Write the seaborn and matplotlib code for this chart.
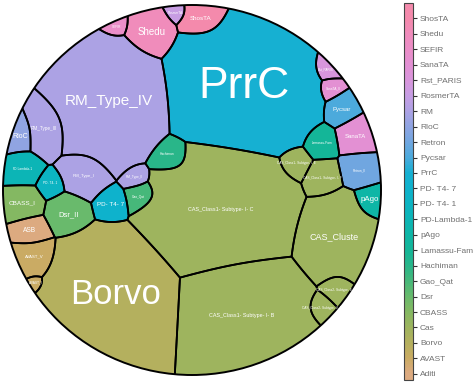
import numpy as np
import matplotlib
matplotlib.use("Agg")
import matplotlib.pyplot as plt
import seaborn as sns
from matplotlib.patches import Ellipse
from matplotlib.colors import LinearSegmentedColormap

# --- Data ---------------------------------------------------------------
# defence systems in colour-bar order (bottom -> top)
systems = ["Aditi", "AVAST", "Borvo", "Cas", "CBASS", "Dsr", "Gao_Qat",
           "Hachiman", "Lamassu-Fam", "pAgo", "PD-Lambda-1", "PD- T4- 1",
           "PD- T4- 7", "PrrC", "Pycsar", "Retron", "RloC", "RM", "RosmerTA",
           "Rst_PARIS", "SanaTA", "SEFIR", "Shedu", "ShosTA"]

# treemap cells (subtypes), the system they belong to and their size
cell_names = ["PrrC", "RM_Type_IV", "RM_Type_III", "RM_Type_I", "RM_Type_II",
              "RloC", "PD-Lambda-1", "PD- T4- 1", "PD- T4- 7", "Gao_Qat",
              "Hachiman", "CBASS_I", "Dsr_II", "ASB", "AVAST_V", "AVAST_I",
              "Borvo", "CAS_Class1- Subtype- I- C", "CAS_Class1- Subtype- I- B",
              "CAS_Cluste", "CAS_Class1- Subtype- I- E",
              "CAS_Class1- Subtype- I- F", "CAS_Class2- Subtype- II- A",
              "CAS_Class2- Subtype- V- A", "Lamassu-Fam", "pAgo", "Retron_II",
              "SanaTA", "SanaTA_II", "Pycsar", "Rst_PARIS", "SEFIR", "ShosTA",
              "RosmerTA", "Shedu"]
cell_system = ["PrrC", "RM", "RM", "RM", "RM",
               "RloC", "PD-Lambda-1", "PD- T4- 1", "PD- T4- 7", "Gao_Qat",
               "Hachiman", "CBASS", "Dsr", "Aditi", "AVAST", "AVAST",
               "Borvo", "Cas", "Cas",
               "Cas", "Cas",
               "Cas", "Cas",
               "Cas", "Lamassu-Fam", "pAgo", "Retron",
               "SanaTA", "SanaTA", "Pycsar", "Rst_PARIS", "SEFIR", "ShosTA",
               "RosmerTA", "Shedu"]
cell_size = [16500, 12000, 1800, 1700, 500,
             600, 1100, 600, 1000, 550,
             900, 1200, 1500, 900, 1100, 150,
             14000, 15000, 12000,
             5500, 700,
             1100, 600,
             500, 900, 600, 1200,
             1100, 400, 900, 350, 300, 1000,
             250, 1700]

# --- Layout (pixel space of the figure) ----------------------------------
CX, CY, RX, RY = 192.0, 190.0, 189.0, 185.0
seeds = {
    "PrrC": (245, 85), "RM_Type_IV": (112, 100), "RM_Type_III": (45, 125),
    "RM_Type_I": (85, 170), "RM_Type_II": (140, 177), "RloC": (20, 130),
    "PD-Lambda-1": (23, 165), "PD- T4- 1": (52, 183), "PD- T4- 7": (112, 202),
    "Gao_Qat": (147, 194), "Hachiman": (177, 160), "CBASS_I": (23, 203),
    "Dsr_II": (68, 212), "ASB": (30, 232), "AVAST_V": (33, 260),
    "AVAST_I": (35, 282), "Borvo": (112, 305),
    "CAS_Class1- Subtype- I- C": (225, 205),
    "CAS_Class1- Subtype- I- B": (245, 312), "CAS_Cluste": (340, 235),
    "CAS_Class1- Subtype- I- E": (293, 163),
    "CAS_Class1- Subtype- I- F": (322, 178),
    "CAS_Class2- Subtype- II- A": (338, 284),
    "CAS_Class2- Subtype- V- A": (318, 307), "Lamassu-Fam": (320, 142),
    "pAgo": (370, 205), "Retron_II": (360, 170), "SanaTA": (357, 135),
    "SanaTA_II": (330, 87), "Pycsar": (342, 108), "Rst_PARIS": (327, 67),
    "SEFIR": (117, 25), "ShosTA": (207, 20), "RosmerTA": (178, 12),
    "Shedu": (153, 33),
}
font_pt = {
    "PrrC": 32, "Borvo": 25, "RM_Type_IV": 11, "Shedu": 7, "CAS_Cluste": 6.5,
    "pAgo": 5.7, "Dsr_II": 5.5, "RloC": 5, "ASB": 4.8, "CBASS_I": 4.6,
    "PD- T4- 7": 4.5, "ShosTA": 4.5, "Pycsar": 4.3, "SanaTA": 4.3,
    "CAS_Class1- Subtype- I- C": 3.9, "CAS_Class1- Subtype- I- B": 3.9,
    "RM_Type_III": 3.3, "AVAST_V": 3.2, "RM_Type_I": 3.1,
}
small_pt = 2.3

# colour anchors per system (bottom -> top of the colour bar)
anchor_colors = ["#dcaa80", "#c9ab62", "#b4b05e", "#9db45e", "#84b862",
                 "#68ba6c", "#46b87a", "#28b68a", "#14b698", "#0eb6a6",
                 "#0cb5b6", "#0cb4c2", "#0eb2cc", "#16b0d2", "#4aaadc",
                 "#70a6e0", "#8ea4e2", "#aca2e4", "#c69ee4", "#d896dc",
                 "#e290d4", "#ea8ec8", "#f08cbc", "#f48aac"]
VMIN, VMAX = -0.4, 24.0

sns.set_theme(style="white")
plt.rcParams["font.family"] = ["Liberation Sans", "DejaVu Sans"]

pos = [(k - VMIN) / (VMAX - VMIN) for k in range(len(systems))]
pal = sns.color_palette(anchor_colors)
cmap = LinearSegmentedColormap.from_list(
    "systems", [(0.0, pal[0])] + list(zip(pos, pal)) + [(1.0, pal[-1])])

# --- Additively weighted Voronoi treemap inside the ellipse -------------
W, H = 384, 382
n = len(cell_names)
sx = np.array([seeds[c][0] for c in cell_names], dtype=float)
sy = np.array([seeds[c][1] for c in cell_names], dtype=float)
gx, gy = np.meshgrid(np.arange(W) + 0.5, np.arange(H) + 0.5)
inside = ((gx - CX) / RX) ** 2 + ((gy - CY) / RY) ** 2 <= 1.0
dist = np.hypot(gx.reshape(-1, 1) - sx, gy.reshape(-1, 1) - sy).astype(np.float32)
din = dist[inside.ravel()]

size = np.array(cell_size, dtype=float)
target = size / size.sum() * inside.sum()
w = np.zeros(n)
for it in range(400):
    lab = np.argmin(din - w.astype(np.float32), axis=1)
    area = np.bincount(lab, minlength=n)
    w += 0.8 * (np.sqrt(target) - np.sqrt(area)) / np.sqrt(np.pi)

D = dist - w.astype(np.float32)
lab_all = np.argmin(D, axis=1)
part = np.partition(D, 1, axis=1)
d1, d2 = part[:, 0], part[:, 1]

sys_idx = np.array([systems.index(s) for s in cell_system], dtype=float)
grid = sys_idx[lab_all].reshape(H, W)

fig = plt.figure(figsize=(4.74, 3.82), dpi=100)
ax = fig.add_axes([0, 0, W / 474, 1])
cax = fig.add_axes([404 / 474, 2 / 382, 9 / 474, 377 / 382])

sns.heatmap(grid, mask=~inside, cmap=cmap, vmin=VMIN, vmax=VMAX, ax=ax,
            cbar_ax=cax, cbar_kws={"ticks": list(range(len(systems)))},
            xticklabels=False, yticklabels=False)
ax.set_axis_off()

outline = Ellipse((CX, CY), 2 * RX, 2 * RY, fill=False, ec="black", lw=1.4,
                  zorder=5)
ax.add_patch(outline)

# cell borders: zero level of (own distance - best other distance)
for i in range(n):
    other = np.where(lab_all == i, d2, d1)
    f = (D[:, i] - other).reshape(H, W)
    cs = ax.contour(gx, gy, f, levels=[0], colors="black", linewidths=1.3,
                    zorder=4)
    cs.set_clip_path(outline)

# labels at the cell centroids
lab_in = lab_all[inside.ravel()]
px, py = gx[inside], gy[inside]
for i, name in enumerate(cell_names):
    sel = lab_in == i
    if not sel.any():
        continue
    ax.text(px[sel].mean(), py[sel].mean(), name,
            fontsize=font_pt.get(name, small_pt), color="white",
            ha="center", va="center", zorder=6)

cbar = ax.collections[0].colorbar
cbar.set_ticklabels(systems)
cbar.ax.tick_params(labelsize=6.0, labelcolor="#707070", length=3,
                    width=0.8, color="#333333", pad=2)
cbar.outline.set_edgecolor("#444444")
cbar.outline.set_linewidth(0.8)

fig.savefig("out.png", dpi=100)
